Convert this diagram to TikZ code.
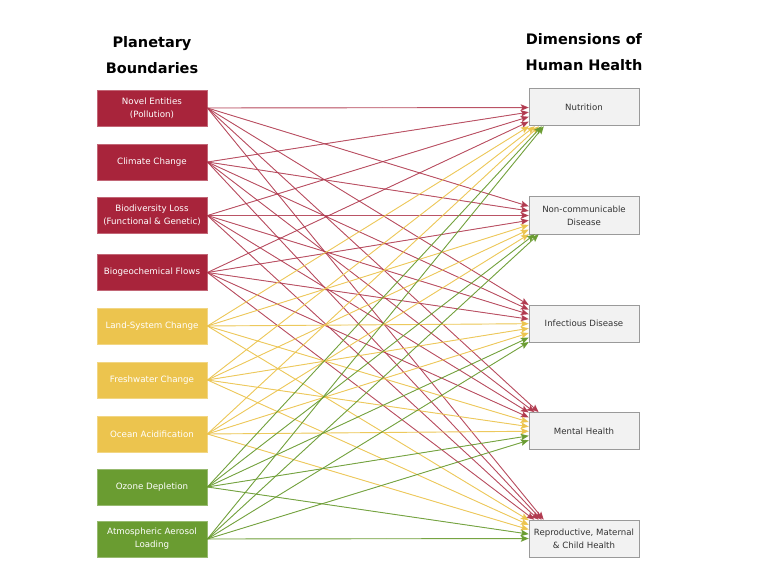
\documentclass[tikz,border=0pt]{standalone}
\usepackage{fontspec}
\setmainfont{DejaVu Sans}
\usetikzlibrary{arrows.meta}
\definecolor{pbred}{HTML}{A8243B}
\definecolor{pbyellow}{HTML}{ECC44E}
\definecolor{pbgreen}{HTML}{6A9C31}
\definecolor{hhfill}{HTML}{F2F2F2}
\definecolor{hhdraw}{HTML}{9A9A9A}
\definecolor{hhtext}{HTML}{333333}
\tikzset{
  pb/.style={rectangle, minimum width=110pt, minimum height=36pt, inner sep=0pt,
    align=center, text=white, font=\fontsize{8.7}{13}\selectfont, line width=0.8pt},
  pbr/.style={pb, fill=pbred, draw=pbred!70!white},
  pby/.style={pb, fill=pbyellow, draw=pbyellow!70!white},
  pbg/.style={pb, fill=pbgreen, draw=pbgreen!70!white},
  hh/.style={rectangle, minimum width=110pt, minimum height=37pt, inner sep=0pt,
    align=center, text=hhtext, fill=hhfill, draw=hhdraw, line width=1pt,
    font=\fontsize{8.6}{13}\selectfont},
  aim/.style={rectangle, minimum width=60pt, minimum height=37pt, inner sep=0pt, draw=none},
  title/.style={align=center, font=\bfseries\fontsize{14.5}{26}\selectfont, text=black},
  link/.style={line width=0.9pt, -{Stealth[length=8pt,width=6.5pt,inset=1.5pt]}},
  lred/.style={link, draw=pbred!90!white, fill=pbred, draw opacity=0.85},
  lyellow/.style={link, draw=pbyellow, fill=pbyellow, draw opacity=0.9},
  lgreen/.style={link, draw=pbgreen, fill=pbgreen, draw opacity=0.9}
}
\begin{document}
\begin{tikzpicture}[x=1pt,y=-1pt]
\useasboundingbox (0,0) rectangle (768,588);
\fill[white] (0,0) rectangle (768,588);

\node[title] (tl) at (152,55.5) {Planetary\\Boundaries};
\node[title] (tr) at (584,52.5) {Dimensions of\\Human Health};

\node[pbr] (ne) at (152,108) {Novel Entities\\(Pollution)};
\node[pbr] (cc) at (152,162) {Climate Change};
\node[pbr] (bl) at (152,215.5) {Biodiversity Loss\\(Functional \& Genetic)};
\node[pbr] (bf) at (152,272.5) {Biogeochemical Flows};
\node[pby] (ls) at (152,326) {Land-System Change};
\node[pby] (fw) at (152,380) {Freshwater Change};
\node[pby] (oa) at (152,434) {Ocean Acidification};
\node[pbg] (od) at (152,487) {Ozone Depletion};
\node[pbg] (aa) at (152,539) {Atmospheric Aerosol\\Loading};

\node[hh] (nu) at (584,107.5) {Nutrition};
\node[hh] (nc) at (584,215.5) {Non-communicable\\Disease};
\node[hh] (id) at (584,323.5) {Infectious Disease};
\node[hh] (mh) at (584,431) {Mental Health};
\node[hh] (rh) at (584,538.5) {Reproductive, Maternal\\\& Child Health};

\node[aim] (nua) at (559,107.5) {};
\node[aim] (nca) at (559,215.5) {};
\node[aim] (ida) at (559,323.5) {};
\node[aim] (mha) at (559,431) {};
\node[aim] (rha) at (559,538.5) {};

\foreach \s/\c in {ne/lred,cc/lred,bl/lred,bf/lred,ls/lyellow,fw/lyellow,oa/lyellow,od/lgreen,aa/lgreen}{
  \foreach \t in {nua,nca,ida,mha,rha}{
    \draw[\c] (\s.east) -- (\t);
  }
}
\end{tikzpicture}
\end{document}
